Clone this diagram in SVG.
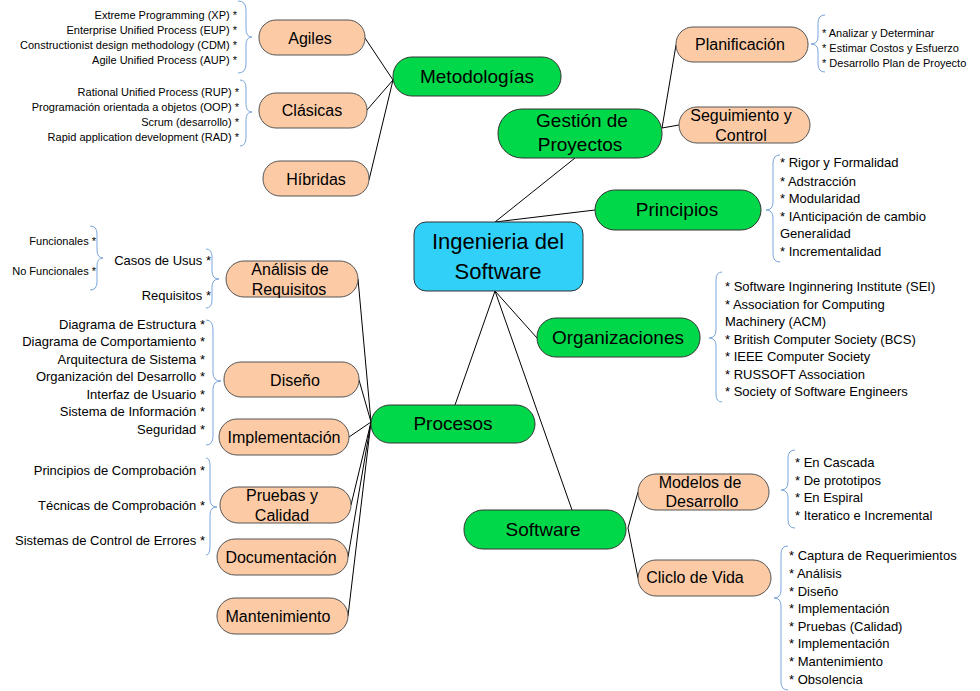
<svg xmlns="http://www.w3.org/2000/svg" width="980" height="691" viewBox="0 0 980 691">
<style>
text{font-family:"Liberation Sans",Arial,sans-serif;fill:#000}
.g{fill:#00d84a;stroke:#333;stroke-width:1}
.o{fill:#fccba6;stroke:#555;stroke-width:1}
.b{fill:#30d0f8;stroke:#333;stroke-width:1}
.n{font-size:16px;text-anchor:middle}
.ng{font-size:19px;text-anchor:middle}
.s{font-size:11px;text-anchor:end}
.m{font-size:13px}
.r{text-anchor:end}
.br{fill:none;stroke:#7aa6dc;stroke-width:1}
.c line{stroke:#000;stroke-width:1}
</style>
<rect width="980" height="691" fill="#fff"/>
<g class="c">
<line x1="365" y1="38" x2="393" y2="80"/><line x1="367" y1="110" x2="393" y2="80"/><line x1="369" y1="180" x2="393" y2="80"/>
<line x1="575" y1="158" x2="495" y2="222"/>
<line x1="662" y1="128" x2="676" y2="45"/><line x1="662" y1="128" x2="679" y2="125"/>
<line x1="495" y1="222" x2="595" y2="210"/>
<line x1="495" y1="291" x2="455" y2="405"/><line x1="495" y1="291" x2="537" y2="338"/><line x1="495" y1="291" x2="572" y2="510"/>
<line x1="371" y1="422" x2="358" y2="279"/><line x1="371" y1="422" x2="359" y2="380"/><line x1="371" y1="422" x2="349" y2="437"/><line x1="371" y1="422" x2="351" y2="505"/><line x1="371" y1="422" x2="348" y2="557"/><line x1="371" y1="422" x2="348" y2="616"/>
<line x1="628" y1="528" x2="638" y2="492"/><line x1="628" y1="528" x2="638" y2="578"/>
</g>
<g id="agiles"><rect class="o" x="259" y="20" width="106" height="35" rx="17"/><text class="n" x="310" y="44">Agiles</text></g>
<g id="clasicas"><rect class="o" x="259" y="93" width="108" height="35" rx="17"/><text class="n" x="312" y="116">Clásicas</text></g>
<g id="hibridas"><rect class="o" x="263" y="161" width="106" height="35" rx="17"/><text class="n" x="316" y="185">Híbridas</text></g>
<g id="metodologias"><rect class="g" x="393" y="57" width="168" height="39" rx="19"/><text class="ng" x="477" y="83">Metodologías</text></g>
<g id="gestion"><rect class="g" x="498" y="109" width="164" height="49" rx="24"/><text class="ng" x="582" y="127">Gestión de</text><text class="ng" x="580" y="151">Proyectos</text></g>
<g id="planificacion"><rect class="o" x="676" y="27" width="132" height="35" rx="17"/><text class="n" x="740" y="50">Planificación</text></g>
<g id="seguimiento"><rect class="o" x="679" y="107" width="131" height="36" rx="18"/><text class="n" x="741" y="121">Seguimiento y</text><text class="n" x="741" y="141">Control</text></g>
<g id="principios"><rect class="g" x="595" y="190" width="166" height="40" rx="20"/><text class="ng" x="677" y="216">Principios</text></g>
<g id="ingenieria"><rect class="b" x="414" y="222" width="169" height="69" rx="12"/><text class="n" x="498" y="249" style="font-size:22px">Ingenieria del</text><text class="n" x="498" y="279" style="font-size:22px">Software</text></g>
<g id="organizaciones"><rect class="g" x="537" y="318" width="163" height="39" rx="19"/><text class="ng" x="618" y="344">Organizaciones</text></g>
<g id="procesos"><rect class="g" x="371" y="405" width="164" height="38" rx="19"/><text class="ng" x="453" y="430">Procesos</text></g>
<g id="software"><rect class="g" x="464" y="510" width="162" height="39" rx="19"/><text class="ng" x="543" y="536">Software</text></g>
<g id="modelos"><rect class="o" x="638" y="474" width="131" height="36" rx="18"/><text class="n" x="700" y="488">Modelos de</text><text class="n" x="702" y="507">Desarrollo</text></g>
<g id="ciclo"><rect class="o" x="638" y="560" width="133" height="36" rx="18"/><text class="n" x="695" y="583">Cliclo de Vida</text></g>
<g id="analisis"><rect class="o" x="226" y="261" width="132" height="36" rx="18"/><text class="n" x="290" y="275">Análisis de</text><text class="n" x="289" y="295">Requisitos</text></g>
<g id="diseno"><rect class="o" x="224" y="362" width="135" height="35" rx="17"/><text class="n" x="295" y="386">Diseño</text></g>
<g id="implementacion"><rect class="o" x="219" y="419" width="130" height="36" rx="18"/><text class="n" x="284" y="443">Implementación</text></g>
<g id="pruebas"><rect class="o" x="220" y="487" width="131" height="36" rx="18"/><text class="n" x="282" y="501">Pruebas y</text><text class="n" x="282" y="521">Calidad</text></g>
<g id="documentacion"><rect class="o" x="217" y="539" width="131" height="36" rx="18"/><text class="n" x="281" y="563">Documentación</text></g>
<g id="mantenimiento"><rect class="o" x="217" y="598" width="131" height="36" rx="18"/><text class="n" x="278" y="622">Mantenimiento</text></g>
<g id="braces">
<path class="br" d="M238,1 Q246,1 246,10 V29 Q246,37 252,37 Q246,37 246,45 V64 Q246,73 238,73"/>
<path class="br" d="M240,80 Q246,80 246,88 V104 Q246,112 252,112 Q246,112 246,120 V137 Q246,146 240,146"/>
<path class="br" d="M90,226 Q97,226 97,234 V250 Q97,258 103,258 Q97,258 97,266 V282 Q97,290 90,290"/>
<path class="br" d="M206,249 Q212,249 212,257 V271 Q212,279 219,279 Q212,279 212,287 V300 Q212,308 206,308"/>
<path class="br" d="M206,320 Q213,320 213,330 V373 Q213,381 221,381 Q213,381 213,389 V436 Q213,445 206,445"/>
<path class="br" d="M206,458 Q210,458 210,466 V499 Q210,507 217,507 Q210,507 210,515 V546 Q210,555 206,555"/>
<path class="br" d="M825,15 Q818,15 818,23 V37 Q818,44 811,44 Q818,44 818,51 V64 Q818,72 825,72"/>
<path class="br" d="M780,155 Q773,155 773,163 V202 Q773,210 766,210 Q773,210 773,218 V254 Q773,262 780,262"/>
<path class="br" d="M722,272 Q716,272 716,280 V330 Q716,338 709,338 Q716,338 716,346 V394 Q716,402 722,402"/>
<path class="br" d="M795,450 Q788,450 788,458 V482 Q788,490 781,490 Q788,490 788,498 V520 Q788,528 795,528"/>
<path class="br" d="M788,546 Q781,546 781,554 V590 Q781,598 774,598 Q781,598 781,606 V682 Q781,690 788,690"/>
</g>
<g id="texts">
<text class="s" x="237" y="19">Extreme Programming (XP) *</text>
<text class="s" x="237" y="34">Enterprise Unified Process (EUP) *</text>
<text class="s" x="237" y="49">Constructionist design methodology (CDM) *</text>
<text class="s" x="237" y="64">Agile Unified Process (AUP) *</text>
<text class="s" x="239" y="96">Rational Unified Process (RUP) *</text>
<text class="s" x="239" y="111">Programación orientada a objetos (OOP) *</text>
<text class="s" x="239" y="126">Scrum (desarrollo) *</text>
<text class="s" x="239" y="141">Rapid application development (RAD) *</text>
<text class="s" x="96" y="245">Funcionales *</text>
<text class="s" x="96" y="275">No Funcionales *</text>
<text class="m r" x="211" y="265">Casos de Usus *</text>
<text class="m r" x="211" y="300">Requisitos *</text>
<text class="m r" x="205" y="329">Diagrama de Estructura *</text>
<text class="m r" x="205" y="346">Diagrama de Comportamiento *</text>
<text class="m r" x="205" y="364">Arquitectura de Sistema *</text>
<text class="m r" x="205" y="381">Organización del Desarrollo *</text>
<text class="m r" x="205" y="399">Interfaz de Usuario *</text>
<text class="m r" x="205" y="416">Sistema de Información *</text>
<text class="m r" x="205" y="434">Seguridad *</text>
<text class="m r" x="205" y="475">Principios de Comprobación *</text>
<text class="m r" x="205" y="510">Técnicas de Comprobación *</text>
<text class="m r" x="205" y="545">Sistemas de Control de Errores *</text>
<g style="font-size:11px"><text x="822" y="37">* Analizar y Determinar</text><text x="822" y="52">* Estimar Costos y Esfuerzo</text><text x="822" y="67">* Desarrollo Plan de Proyecto</text></g>
<g class="m">
<text x="780" y="167">* Rigor y Formalidad</text><text x="780" y="186">* Adstracción</text><text x="780" y="203">* Modularidad</text><text x="780" y="221">* IAnticipación de cambio</text><text x="780" y="238">Generalidad</text><text x="780" y="256">* Incrementalidad</text>
<text x="725" y="291">* Software Inginnering Institute (SEI)</text><text x="725" y="309">* Association for Computing</text><text x="725" y="326">Machinery (ACM)</text><text x="725" y="344">* British Computer Society (BCS)</text><text x="725" y="361">* IEEE Computer Society</text><text x="725" y="379">* RUSSOFT Association</text><text x="725" y="396">* Society of Software Engineers</text>
<text x="795" y="467">* En Cascada</text><text x="795" y="485">* De prototipos</text><text x="795" y="502">* En Espiral</text><text x="795" y="520">* Iteratico e Incremental</text>
<text x="789" y="560">* Captura de Requerimientos</text><text x="789" y="578">* Análisis</text><text x="789" y="596">* Diseño</text><text x="789" y="613">* Implementación</text><text x="789" y="631">* Pruebas (Calidad)</text><text x="789" y="648">* Implementación</text><text x="789" y="666">* Mantenimiento</text><text x="789" y="684">* Obsolencia</text>
</g>
</g>
</svg>
